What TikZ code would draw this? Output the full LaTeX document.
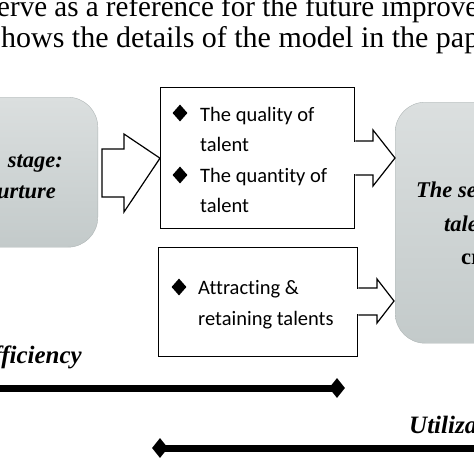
\documentclass[tikz,border=0pt]{standalone}
\usepackage{fontspec}
\setmainfont{Liberation Serif}
\newfontfamily\calfont[Ligatures=NoCommon]{Carlito}
\usetikzlibrary{shapes.geometric}
\definecolor{gtop}{RGB}{219,223,223}
\definecolor{gbot}{RGB}{195,202,202}
\tikzset{
  graybox/.style={rounded corners=30pt, top color=gtop, bottom color=gbot, draw=gbot!90!black, line width=0.4pt, inner sep=0},
  whitebox/.style={draw=black, fill=white, line width=1.4pt, inner sep=0},
  bline/.style={inner sep=0, font=\calfont\fontsize{20.5}{24}\selectfont, anchor=base west},
  bullet/.style={diamond, fill=black, inner sep=0, minimum width=15pt, minimum height=17pt},
  stagetext/.style={inner sep=0, font=\bfseries\itshape\fontsize{22.5}{26}\selectfont},
  axistext/.style={inner sep=0, font=\bfseries\itshape\fontsize{25}{29}\selectfont},
  toptext/.style={inner sep=0, anchor=base west},
  blockarrow/.style={draw=black, line width=1.2pt, fill=white, line join=miter},
  axis/.style={line width=7pt},
  endmark/.style={diamond, fill=black, inner sep=0, minimum width=16pt, minimum height=20pt}
}
\begin{document}
\begin{tikzpicture}[x=1pt,y=-1pt]
\useasboundingbox (0,0) rectangle (474,474);
\clip (0,0) rectangle (474,474);
\fill[white] (0,0) rectangle (474,474);

% top running text
\node[toptext] (l1) at (-3,16) {\resizebox{481pt}{21pt}{erve as a reference for the future improve}};
\node[toptext] (l2) at (1,47) {\resizebox{478pt}{21pt}{hows the details of the model in the pap}};

% grey stage boxes
\node[graybox, anchor=north east, minimum width=170pt, minimum height=150pt] (left) at (98,97) {};
\node[graybox, anchor=north west, minimum width=160pt, minimum height=241pt] (right) at (395,102) {};

\node[stagetext, anchor=base east] (s1) at (63,167) {stage:};
\node[stagetext, anchor=base east] (s2) at (56,198) {nurture};

\node[stagetext, anchor=base west] (r1) at (416,197) {The second stage:};
\node[stagetext, anchor=base west] (r2) at (444,231) {talent};
\node[stagetext, anchor=base west, font=\bfseries\fontsize{22.5}{26}\selectfont] (r3) at (461,264) {creation};

% white boxes
\node[whitebox, anchor=north west, minimum width=194pt, minimum height=141pt] (top) at (160,87) {};
\node[whitebox, anchor=north west, minimum width=199pt, minimum height=109pt] (bot) at (158,247) {};

% left block arrow into the top box
\draw[blockarrow] (102,149) -- (124,149) -- (124,134) -- (top.west) -- (124,212) -- (124,197) -- (102,197) -- cycle;

% right block arrows out of the boxes
\fill[white] (352,142) -- (373,142) -- (373,174) -- (352,174) -- cycle;
\draw[blockarrow, fill=white] (top.east |- 0,141) -- (373,141) -- (373,130) -- (right.west |- 0,158) -- (373,186) -- (373,175) -- (top.east |- 0,175);
\fill[white] (355,289) -- (377,289) -- (377,314) -- (355,314) -- cycle;
\draw[blockarrow, fill=white] (bot.east |- 0,288) -- (377,288) -- (377,279) -- (394,301) -- (377,323) -- (377,315) -- (bot.east |- 0,315);

% bullet lists
\node[bullet] (b1) at (180,113) {};
\node[bline] (q1) at (200,121) {The quality of};
\node[bline] (q2) at (200,151) {talent};
\node[bullet] (b2) at (180,175) {};
\node[bline] (q3) at (200,182) {The quantity of};
\node[bline] (q4) at (200,212) {talent};
\node[bullet] (b3) at (179,287) {};
\node[bline] (a1) at (198,294) {Attracting \&};
\node[bline] (a2) at (198,325) {retaining talents};

% stage axes
\node[axistext, anchor=base east] (eff) at (82,363) {Efficiency};
\node[endmark] (d1) at (337,388) {};
\coordinate (e1) at (-10,388);
\draw[axis] (e1) -- (d1.center);

\node[axistext, anchor=base west] (uti) at (409,433) {Utilization};
\node[endmark] (d2) at (160,448) {};
\coordinate (e2) at (484,448);
\draw[axis] (d2.center) -- (e2);
\end{tikzpicture}
\end{document}
